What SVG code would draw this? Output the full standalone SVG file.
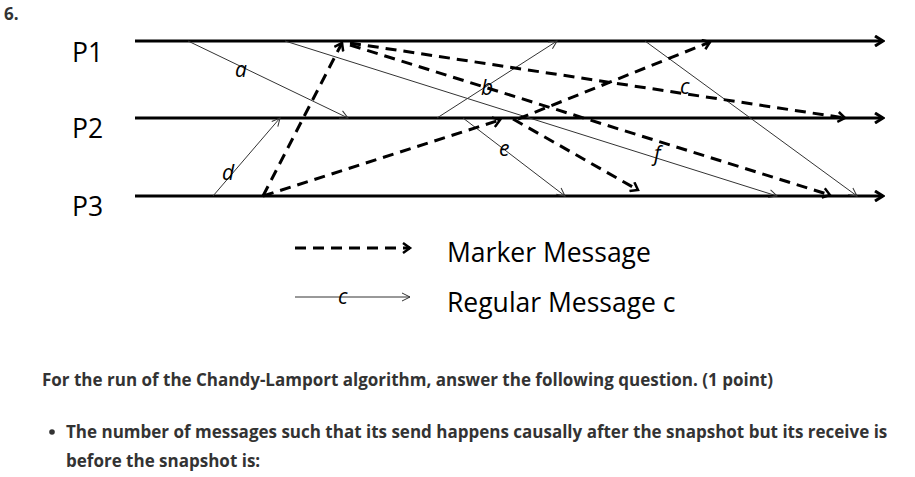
<svg xmlns="http://www.w3.org/2000/svg" width="915" height="477" viewBox="0 0 915 477">
<style>
.ax{stroke:#000;stroke-width:3;fill:none}
.rg{stroke:#333;stroke-width:1;fill:none}
.mk{stroke:#000;stroke-width:3;fill:none;stroke-dasharray:11 7}
.lb{font-family:"Open Sans","Liberation Sans",sans-serif;font-size:21px;font-style:italic}
.pl{font-family:"Open Sans","Liberation Sans",sans-serif;font-size:26.5px}
.q{font-family:"Open Sans","Liberation Sans",sans-serif;font-size:17px;font-weight:bold;fill:#333}
</style>
<defs>
<marker id="ah" markerWidth="12" markerHeight="12" refX="10" refY="6" orient="auto" markerUnits="userSpaceOnUse"><path d="M2,1 L10,6 L2,11" fill="none" stroke="#000" stroke-width="3"/></marker>
<marker id="am" markerWidth="12" markerHeight="12" refX="9" refY="6" orient="auto" markerUnits="userSpaceOnUse"><path d="M2,1 L9,6 L2,11" fill="none" stroke="#000" stroke-width="2.5"/></marker>
<marker id="ar" markerWidth="10" markerHeight="10" refX="9" refY="5" orient="auto" markerUnits="userSpaceOnUse"><path d="M1,1 L9,5 L1,9" fill="none" stroke="#333" stroke-width="1"/></marker>
</defs>
<text x="4" y="20" class="q" font-size="15">6.</text>
<g id="processes">
<line class="ax" x1="135" y1="41" x2="883" y2="41" marker-end="url(#ah)"/>
<line class="ax" x1="135" y1="118" x2="883" y2="118" marker-end="url(#ah)"/>
<line class="ax" x1="135" y1="196" x2="883" y2="196" marker-end="url(#ah)"/>
<text x="72" y="62" class="pl">P1</text>
<text x="72" y="138" class="pl">P2</text>
<text x="72" y="216" class="pl">P3</text>
</g>
<g id="connectors">
<line class="rg" x1="188" y1="41" x2="348" y2="118" marker-end="url(#ar)"/>
<line class="rg" x1="285" y1="41" x2="777" y2="196" marker-end="url(#ar)"/>
<line class="rg" x1="437" y1="118" x2="557" y2="41" marker-end="url(#ar)"/>
<line class="rg" x1="645" y1="41" x2="857" y2="196" marker-end="url(#ar)"/>
<line class="rg" x1="213" y1="196" x2="280" y2="118" marker-end="url(#ar)"/>
<line class="rg" x1="463" y1="118" x2="565" y2="196" marker-end="url(#ar)"/>
<line class="mk" x1="263" y1="196" x2="342" y2="43" marker-end="url(#am)"/>
<line class="mk" x1="263" y1="196" x2="500" y2="120" marker-end="url(#am)"/>
<line class="mk" x1="350" y1="43" x2="845" y2="118" marker-end="url(#am)"/>
<line class="mk" x1="350" y1="45" x2="830" y2="195" marker-end="url(#am)"/>
<line class="mk" x1="518" y1="119" x2="710" y2="42" marker-end="url(#am)"/>
<line class="mk" x1="513" y1="119" x2="638" y2="190" marker-end="url(#am)"/>
<text x="235" y="77" class="lb">a</text>
<text x="481" y="95" class="lb">b</text>
<text x="680" y="94" class="lb">c</text>
<text x="222" y="180" class="lb">d</text>
<text x="499" y="156" class="lb">e</text>
<text x="654" y="161" class="lb">f</text>
</g>
<g id="legend">
<line class="mk" x1="295" y1="248" x2="410" y2="248" stroke-dasharray="10 6" marker-end="url(#am)"/>
<line class="rg" x1="295" y1="297" x2="410" y2="297" marker-end="url(#ar)"/>
<text x="338" y="304" class="lb">c</text>
<text x="447" y="262" class="pl">Marker Message</text>
<text x="447" y="312" class="pl">Regular Message c</text>
</g>
<text x="42" y="386" class="q">For the run of the Chandy-Lamport algorithm, answer the following question. (1 point)</text>
<circle cx="52" cy="432" r="2.8" fill="#333"/>
<text x="66" y="438" class="q">The number of messages such that its send happens causally after the snapshot but its receive is</text>
<text x="66" y="467" class="q">before the snapshot is:</text>
</svg>
